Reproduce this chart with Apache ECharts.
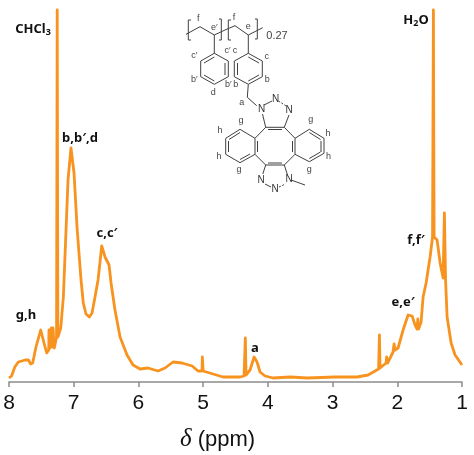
<!DOCTYPE html>
<html>
<head>
<meta charset="utf-8">
<style>
  html, body { margin: 0; padding: 0; background: #fff; }
  #myChart { width: 474px; height: 455px; }
</style>
<script src="https://cdn.jsdelivr.net/npm/echarts@6/dist/echarts.min.js"></script>
</head>
<body>
<div id="myChart"></div>
<script>
// spectrum, intensity in arbitrary units
const shift = [8.00, 7.96, 7.91, 7.856, 7.75, 7.70, 7.665, 7.634, 7.583, 7.51, 7.459, 7.417, 7.386, 7.382, 7.366, 7.346, 7.33, 7.32, 7.30, 7.278, 7.265, 7.255, 7.245, 7.222, 7.20, 7.16, 7.088, 7.042, 6.995, 6.949, 6.887, 6.852, 6.81, 6.759, 6.717, 6.671, 6.624, 6.567, 6.516, 6.454, 6.423, 6.362, 6.284, 6.176, 6.083, 5.975, 5.852, 5.697, 5.589, 5.465, 5.326, 5.17, 5.079, 5.017, 5.012, 5.0, 4.847, 4.692, 4.43, 4.368, 4.348, 4.337, 4.275, 4.213, 4.167, 4.121, 4.043, 3.92, 3.657, 3.394, 2.961, 2.621, 2.451, 2.343, 2.289, 2.276, 2.266, 2.173, 2.165, 2.15, 2.065, 2.05, 2.034, 1.988, 1.91, 1.833, 1.771, 1.725, 1.694, 1.683, 1.671, 1.632, 1.601, 1.555, 1.532, 1.493, 1.455, 1.442, 1.431, 1.385, 1.338, 1.292, 1.272, 1.254, 1.23, 1.168, 1.107, 1.0];
const intensity = [4, 6, 15, 20, 22, 22, 18, 19, 35, 52, 39, 29, 32, 52, 34, 54, 35, 54, 34, 35, 45, 372, 45, 45, 54, 85, 202, 234, 209, 155, 102, 79, 68, 65, 69, 85, 102, 136, 125, 117, 99, 72, 45, 27, 17, 13, 14, 11, 14, 20, 19, 16, 11, 11, 25, 11, 8, 5, 5, 6, 44, 7, 12, 25, 20, 10, 6, 4, 5, 4, 5, 5, 7, 11, 13, 47, 14, 19, 25, 19, 30, 38, 32, 34, 52, 67, 66, 57, 53, 63, 53, 60, 85, 99, 99, 125, 145, 372, 145, 142, 119, 104, 169, 102, 65, 39, 27, 17];
const tickLabels = ['8', '7', '6', '5', '4', '3', '2', '1'];

const orange = '#F7931E';
const bondColor = '#404040';

// peak labels
const peakLabels = [
  ['{m|CHCl}{s|3}', 33, 29],
  ['{m|b,b′,d}', 80, 138],
  ['{m|c,c′}', 107, 233],
  ['{m|g,h}', 26, 315],
  ['{m|a}', 255, 348],
  ['{m|e,e′}', 403, 302],
  ['{m|f,f′}', 416, 240],
  ['{m|H}{s|2}{m|O}', 416, 20]
];

// structure inset: bonds as polylines
const bonds = [
  // brackets
  [[191, 20], [188.3, 20], [188.3, 40], [191, 40]],
  [[219, 19], [221.3, 19], [221.3, 40], [219, 40]],
  [[231, 20], [228.3, 20], [228.3, 40], [231, 40]],
  [[255, 19], [257.3, 19], [257.3, 39], [255, 39]],
  // backbone
  [[186, 34.3], [200, 26.7], [214.3, 35], [225, 30], [235, 25.7], [248.3, 35], [262.7, 27.7]],
  [[214.3, 35], [214.3, 53.3]],
  [[248.3, 35], [248.3, 53.3]],
  // phenyl rings
  [[214.3, 53.3], [228.3, 61], [228.3, 76.7], [214.3, 84.3], [200.7, 76.7], [200.7, 61], [214.3, 53.3]],
  [[214.3, 57], [204, 63]], [[225, 63], [225, 75]], [[204, 75], [214.3, 81]],
  [[248.3, 53.3], [262.3, 61], [262.3, 76.7], [248.3, 84.3], [234.3, 76.7], [234.3, 61], [248.3, 53.3]],
  [[248.3, 57], [259, 63]], [[237.5, 63], [237.5, 75]], [[248.3, 81], [259, 75]],
  // CH2 link
  [[248.3, 84.3], [247.3, 97.3], [256.7, 105.7]],
  // upper triazole
  [[264, 105], [272, 101]], [[289, 115], [284.3, 127.3]], [[265.7, 127.3], [262.5, 114]],
  // cyclooctatetraene
  [[265.7, 127.3], [284.3, 127.3], [295, 138.3], [295, 154.3], [284.3, 165], [265.7, 165], [255, 154.3], [255, 138.3], [265.7, 127.3]],
  [[268, 129.5], [282, 129.5]], [[292.5, 141], [292.5, 152]], [[268, 163], [282, 163]], [[257.5, 141], [257.5, 152]],
  // fused benzo rings
  [[255, 138.3], [240, 129.3], [225.7, 138.3], [225.7, 154.3], [240, 162.7], [255, 154.3]],
  [[240, 132.5], [229, 139.5]], [[228.5, 141], [228.5, 152]], [[240, 159.5], [250, 154]],
  [[295, 138.3], [309.3, 129.3], [324, 138.3], [324, 153.3], [309.3, 161.7], [295, 154.3]],
  [[309.3, 132.5], [320.5, 139.5]], [[321, 141], [321, 152]], [[309.3, 158.5], [320.5, 152]],
  // lower triazole
  [[265.7, 165], [262.8, 174]], [[284.3, 165], [287.5, 175]], [[265, 184], [271, 187]],
  [[291, 180], [305, 185]]
];
const dashedBonds = [
  [[278.5, 101], [286, 106]],
  [[279, 187], [285.5, 184]]
];

const atomLabels = [
  ['N', 261.7, 109.3], ['N', 275.7, 99.3], ['N', 289, 110.7],
  ['N', 261, 180], ['N', 275, 189], ['N', 289, 179.5]
];
const siteLabels = [
  ['f', 198.3, 18.3], ['e′', 214.3, 27.7], ['f', 234, 17.7], ['e', 248.3, 26.7],
  ['c′', 194.3, 56], ['c′', 227.7, 51], ['c', 235, 51], ['c', 266.7, 56.7],
  ['b′', 194.3, 80], ['b′', 228.3, 84.3], ['b', 235.7, 85], ['d', 213.3, 92.3], ['b', 267.3, 80],
  ['a', 241.7, 102.7], ['g', 241, 121], ['h', 220, 130.7], ['h', 219, 156.7], ['g', 239, 170],
  ['g', 310.7, 120], ['h', 328, 133.3], ['h', 328.5, 156.7], ['g', 309.3, 169.3]
];

const graphics = [];
bonds.forEach(function (pts) {
  graphics.push({ type: 'polyline', silent: true, shape: { points: pts }, style: { stroke: bondColor, lineWidth: 1, fill: null } });
});
dashedBonds.forEach(function (pts) {
  graphics.push({ type: 'polyline', silent: true, shape: { points: pts }, style: { stroke: bondColor, lineWidth: 1, lineDash: [2, 1.5], fill: null } });
});
atomLabels.forEach(function (a) {
  graphics.push({ type: 'text', silent: true, x: a[1], y: a[2], style: { text: a[0], fill: '#333', font: '10px "Liberation Sans"', align: 'center', verticalAlign: 'middle' } });
});
siteLabels.forEach(function (a) {
  graphics.push({ type: 'text', silent: true, x: a[1], y: a[2], style: { text: a[0], fill: '#444', font: '9px "Liberation Sans"', align: 'center', verticalAlign: 'middle' } });
});
graphics.push({ type: 'text', silent: true, x: 277, y: 36, style: { text: '0.27', fill: '#444', font: '11px "Liberation Sans"', align: 'center', verticalAlign: 'middle' } });
peakLabels.forEach(function (p) {
  graphics.push({
    type: 'text', silent: true, x: p[1], y: p[2],
    style: {
      text: p[0], align: 'center', verticalAlign: 'middle',
      rich: {
        m: { fontFamily: 'Noto Sans', fontWeight: 'bold', fontSize: 13, fill: '#111', lineHeight: 16 },
        s: { fontFamily: 'Noto Sans', fontWeight: 'bold', fontSize: 9, fill: '#111', padding: [7, 0, 0, 0], lineHeight: 16 }
      }
    }
  });
});

const myChart = echarts.init(document.getElementById('myChart'));
const option = {
  animation: false,
  backgroundColor: '#fff',
  grid: { left: 9, right: 12, top: 0, bottom: 73, outerBoundsMode: 'none' },
  xAxis: {
    type: 'value',
    inverse: true,
    min: 1,
    max: 8,
    interval: 1,
    splitLine: { show: false },
    axisLine: { lineStyle: { color: '#8c8c8c', width: 1.5 } },
    axisTick: { length: 5, lineStyle: { color: '#8c8c8c', width: 1.5 } },
    axisLabel: {
      margin: 11,
      color: '#111',
      fontFamily: 'Liberation Sans',
      fontSize: 21,
      formatter: function (v) { return tickLabels[8 - v]; }
    },
    name: '{d|δ} (ppm)',
    nameLocation: 'middle',
    nameGap: 45,
    nameTextStyle: {
      color: '#111',
      fontFamily: 'Liberation Sans',
      fontSize: 22,
      padding: [0, 36, 0, 0],
      rich: {
        d: { fontFamily: 'Liberation Serif', fontStyle: 'italic', fontSize: 25, color: '#111' }
      }
    }
  },
  yAxis: { type: 'value', min: 0, max: 382, show: false },
  series: [{
    type: 'line',
    data: shift.map(function (s, i) { return [s, intensity[i]]; }),
    showSymbol: false,
    symbol: 'none',
    clip: false,
    lineStyle: { color: orange, width: 2.8, join: 'round' }
  }],
  graphic: graphics
};
myChart.setOption(option);
</script>
</body>
</html>
